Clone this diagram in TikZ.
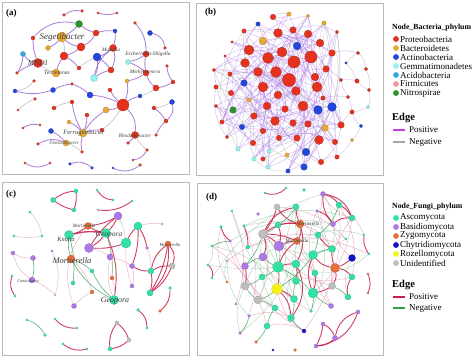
\documentclass[tikz,border=0pt]{standalone}
\usepackage{fontspec}
\setmainfont{Liberation Serif}
\pgfdeclarelayer{bg}
\pgfdeclarelayer{edges}
\pgfsetlayers{bg,edges,main}
\definecolor{cPro}{RGB}{228,50,30}
\definecolor{cBac}{RGB}{232,170,50}
\definecolor{cAct}{RGB}{35,70,220}
\definecolor{cGem}{RGB}{150,240,235}
\definecolor{cAci}{RGB}{50,170,225}
\definecolor{cFir}{RGB}{240,150,160}
\definecolor{cNit}{RGB}{40,150,40}
\definecolor{cAsc}{RGB}{50,225,165}
\definecolor{cBas}{RGB}{175,120,230}
\definecolor{cZyg}{RGB}{232,110,60}
\definecolor{cChy}{RGB}{20,20,200}
\definecolor{cRoz}{RGB}{245,240,30}
\definecolor{cUni}{RGB}{190,190,190}
\definecolor{ePosA}{RGB}{140,80,205}
\definecolor{ePosB}{RGB}{180,135,235}
\definecolor{eNeg}{RGB}{165,165,165}
\definecolor{ePosF}{RGB}{200,30,70}
\definecolor{eNegF}{RGB}{50,160,80}
\definecolor{eFaint}{RGB}{225,160,180}
\definecolor{eFaintG}{RGB}{160,205,175}
\definecolor{frameC}{RGB}{185,185,185}
\definecolor{labC}{RGB}{60,60,60}
\definecolor{legPos}{RGB}{200,60,225}
\tikzset{
  panel/.style={draw=frameC, line width=0.9pt},
  nd/.style={circle, inner sep=0pt, line width=0.25pt},
  ap/.style={draw=ePosA, line width=0.8pt, opacity=0.75},
  an/.style={draw=eNeg, line width=0.5pt, opacity=0.8},
  bp/.style={draw=ePosB, line width=0.42pt, opacity=0.6},
  bn/.style={draw=eNeg, line width=0.4pt, opacity=0.55},
  fp/.style={draw=ePosF, line width=0.9pt, opacity=0.85},
  fn/.style={draw=eNegF, line width=0.6pt, opacity=0.8},
  ff/.style={draw=eFaint, line width=0.5pt, opacity=0.75},
  fg/.style={draw=eFaintG, line width=0.5pt, opacity=0.75},
  lab/.style={font=\itshape\fontsize{#1}{#1}\selectfont, text=labC, inner sep=0pt},
  plet/.style={font=\bfseries\fontsize{9}{9}\selectfont, anchor=west, inner sep=0pt},
  legt/.style={font=\fontsize{9}{9}\selectfont, anchor=west, inner sep=0pt},
  legh/.style={font=\bfseries\fontsize{7.8}{7.8}\selectfont, anchor=west, inner sep=0pt},
  lege/.style={font=\bfseries\fontsize{10.5}{10.5}\selectfont, anchor=west, inner sep=0pt},
  legd/.style={circle, inner sep=0pt, minimum size=5.8pt}
}
\begin{document}
\begin{tikzpicture}[x=1pt,y=-1pt]
\begin{pgfonlayer}{bg}
\fill[white] (0,0) rectangle (474,358);
\end{pgfonlayer}
\path[use as bounding box] (0,0) rectangle (474,358);
% frames
\draw[panel] (2,2) rectangle (189,174);
\draw[panel] (196,3) rectangle (383,175);
\draw[panel] (2,182) rectangle (189,355);
\draw[panel] (197,183) rectangle (383,355);
\node[plet] (la) at (6,13) {(a)};
\node[plet] (lb) at (205,12) {(b)};
\node[plet] (lc) at (6,194) {(c)};
\node[plet] (ld) at (206,197) {(d)};

% ---------- panel a nodes
\foreach \n/\x/\y/\r/\c in {
a1/79/24/3.5/cNit, a2/62/37/5/cBac, a3/96/33/3/cPro, a4/115/31/2/cAct, a5/81/47/4/cPro,
a6/64/56/4/cPro, a7/48/48/2.5/cBac, a8/33/38/2/cPro, a9/113/48/3.5/cPro, a10/97/57/4/cAct,
a11/111/70/3/cPro, a12/94/78/3.5/cGem, a13/38/63/4.5/cPro, a14/23/54/2.5/cAci, a15/56/73/4/cBac,
a16/79/68/2/cPro, a17/17/73/1.5/cPro, a18/34/81/1.5/cPro, a19/15/91/2/cAct, a20/53/90/2.5/cAct,
a21/35/99/1.5/cPro, a22/72/84/1.5/cPro, a23/90/95/3/cAct, a24/110/90/2/cPro, a25/123/105/6/cPro,
a26/140/96/2/cAct, a27/106/110/3/cBac, a28/87/115/2/cPro, a29/54/108/2/cPro, a30/72/102/2/cPro,
a31/69/122/2/cBac, a32/83/133/4/cBac, a33/102/130/2/cPro, a34/135/135/3.5/cPro, a35/51/131/2.5/cAct,
a36/66/143/3/cBac, a37/38/144/1.5/cPro, a38/82/152/1.5/cPro, a39/70/164/1.5/cAct, a40/92/168/1.5/cAct,
a41/150/33/2.5/cAct, a42/146/54/3/cPro, a43/128/62/2.5/cGem, a44/146/73/3/cPro, a45/127/81/2/cBac,
a46/156/88/3/cPro, a47/135/23/1.5/cPro, a48/165/48/1.5/cPro, a49/167/66/1.5/cPro, a50/173/82/2/cPro,
a51/172/102/2.5/cAct, a52/154/108/2/cPro, a53/166/121/2/cPro, a54/156/135/1.5/cPro, a55/64/15/1.5/cPro,
a56/82/11/1.5/cPro, a57/98/13/1.2/cPro, a58/117/13/1.2/cPro, a59/18/110/1.2/cPro, a60/25/163/1.2/cPro,
a61/50/163/1.2/cPro, a62/133/160/1.2/cPro, a63/147/150/1.5/cPro, a64/113/168/1.2/cAct, a65/140/165/1.5/cPro,
a66/128/143/1.5/cPro, a67/23/128/1.2/cPro, a68/40/125/1.2/cPro}
  \node[nd, minimum size=\r*2pt, fill=\c, draw=\c!75!black] (\n) at (\x,\y) {};

\begin{pgfonlayer}{edges}
\foreach \u/\v/\k in {a55/a56/20, a57/a58/-15, a8/a1/30, a1/a2/10, a1/a3/-10, a2/a7/10, a2/a5/-15,
  a3/a4/10, a3/a5/15, a5/a6/10, a6/a15/-10, a6/a16/10, a13/a14/20, a13/a8/10, a13/a17/-10, a14/a17/15,
  a9/a10/10, a9/a12/-20, a10/a11/10, a10/a12/15, a11/a12/-10, a9/a11/20, a4/a9/10, a41/a48/35,
  a42/a43/10, a42/a44/-10, a43/a44/10, a44/a45/10, a44/a46/-15, a50/a46/10, a51/a53/30, a52/a53/10,
  a53/a54/-10, a19/a20/-15, a20/a22/10, a23/a25/10, a24/a25/-10, a25/a26/10, a25/a27/10, a25/a34/25,
  a27/a32/-10, a28/a32/10, a30/a32/-10, a31/a32/10, a32/a33/10, a32/a38/-10, a35/a36/10, a37/a36/25,
  a39/a40/30, a60/a61/-30, a62/a63/-25, a64/a65/-30, a34/a66/10, a45/a25/15, a67/a68/20, a22/a23/10,
  a47/a42/20, a49/a50/-15}
  \draw[ap] (\u) to[bend left=\k] (\v);
\foreach \u/\v/\k in {a2/a6/10, a13/a15/-10, a51/a52/10, a19/a18/-20, a25/a33/10, a29/a30/10,
  a36/a38/10, a34/a63/-10, a59/a21/10, a16/a10/10, a26/a46/-10}
  \draw[an] (\u) to[bend left=\k] (\v);
\end{pgfonlayer}
\node[lab=9] (ta1) at (a2) {Segetibacter};
\node[lab=7.5] (ta2) at (a13) {MND1};
\node[lab=5.6] (ta3) at (57,73) {Terrimonas};
\node[lab=5.2] (ta4) at (111,50) {Massilia};
\node[lab=5.4] (ta5) at (148,54) {Escherichia-Shigella};
\node[lab=5.2] (ta6) at (145,72) {Methylotenera};
\node[lab=6.4] (ta7) at (84,133) {Ferruginibacter};
\node[lab=5.2] (ta8) at (135,136) {Rhodanobacter};
\node[lab=4.8] (ta9) at (64,143) {Flavisolibacter};

% ---------- panel b nodes
\foreach \n/\x/\y/\r/\c in {
1/273/17/2.5/cPro, 2/289/14/2/cBac, 3/258/24/2/cAct, 4/244/31/2/cPro, 5/278/33/4/cPro,
6/293/30/3/cPro, 7/263/41/3.5/cBac, 8/249/50/4.5/cPro, 9/268/58/5/cPro, 10/282/52/4.5/cPro,
11/297/46/3.5/cAct, 12/294/62/5.5/cPro, 13/245/63/4/cPro, 14/258/72/4/cPro, 15/276/72/5/cPro,
16/289/80/6/cPro, 17/230/74/2/cPro, 18/214/70/1.5/cPro, 19/244/83/3/cAct, 20/263/87/4.5/cPro,
21/296/91/4/cPro, 22/278/95/3.5/cPro, 23/231/93/2.5/cPro, 24/216/87/2/cPro, 25/249/100/2/cBac,
26/267/106/3.5/cPro, 27/285/109/3/cPro, 28/303/106/4.5/cPro, 29/233/110/3/cNit, 30/216/106/1.5/cPro,
31/254/116/3/cPro, 32/275/121/4/cPro, 33/293/123/3/cPro, 34/222/122/2/cPro, 35/242/127/2.5/cAct,
36/263/131/2.5/cPro, 37/279/138/2.5/cPro, 38/297/138/3/cPro, 39/227/137/1.5/cPro, 40/253/143/2.5/cPro,
41/238/149/2/cGem, 42/269/151/2/cGem, 43/263/159/2/cPro, 44/287/155/2/cBac, 45/306/152/3.5/cAct,
46/254/159/2/cGem, 47/288/171/2/cAct, 48/268/167/2/cGem, 49/308/16/1.5/cBac, 50/324/23/2/cBac,
51/337/32/1.5/cPro, 52/308/34/3.5/cPro, 53/320/43/3.5/cPro, 54/332/53/3/cPro, 55/311/57/5.5/cPro,
56/326/69/3/cPro, 57/315/77/3.5/cPro, 58/317/87/4.5/cPro, 59/323/98/2/cPro, 60/318/110/4/cAct,
61/332/107/4/cAct, 62/308/124/3/cPro, 63/325/128/3/cBac, 64/341/125/3/cPro, 65/319/140/4/cPro,
66/335/142/2.5/cPro, 67/321/162/2.5/cPro, 68/337/157/2/cPro, 69/304/167/3/cAct, 70/232/42/1.2/cPro,
71/225/56/1.2/cPro, 72/358/53/1.5/cPro, 73/346/63/1.2/cAct, 74/366/69/1.5/cPro, 75/341/80/1.5/cPro,
76/357/81/2/cPro, 77/369/90/1.5/cPro, 78/348/97/1.5/cPro, 79/368/107/1.5/cGem, 80/352/112/2/cPro,
81/361/126/1.5/cAct, 82/352/140/1.5/cBac}
  \node[nd, minimum size=\r*2.2pt, fill=\c, draw=\c!75!black] (b\n) at (\x,\y) {};

\begin{pgfonlayer}{edges}
\pgfmathsetseed{11}
\foreach \k in {1,...,230} {
  \pgfmathtruncatemacro\i{random(1,71)}
  \pgfmathtruncatemacro\j{mod(\i+random(1,30)-1,71)+1}
  \pgfmathtruncatemacro\bb{random(0,1)*44-22}
  \pgfmathtruncatemacro\g{mod(\k,7)}
  \ifnum\g=0
    \draw[bn] (b\i) to[bend left=\bb] (b\j);
  \else
    \draw[bp] (b\i) to[bend left=\bb] (b\j);
  \fi
}
\foreach \u/\v/\k in {b72/b74/20, b74/b77/15, b75/b76/10, b77/b79/15, b78/b80/10, b80/b81/-15,
  b81/b82/10, b75/b78/-10, b64/b80/10, b54/b72/15, b59/b78/10, b56/b75/10, b68/b82/-10}
  \draw[bp] (\u) to[bend left=\k] (\v);
\foreach \u/\v/\k in {b73/b76/10, b76/b77/-10, b79/b80/10, b72/b73/-10}
  \draw[bn] (\u) to[bend left=\k] (\v);
\end{pgfonlayer}

% ---------- panel c nodes
\foreach \n/\x/\y/\r/\c in {
c1/53/200/2.5/cAsc, c2/76/191/2/cAsc, c3/74/210/2/cAsc, c4/97/190/1.2/cAsc, c5/113/200/1.2/cAsc,
c6/98/210/1.2/cUni, c7/132/201/1.2/cAsc, c8/118/216/4/cBas, c9/88/226/3.5/cZyg, c10/69/235/4.5/cAsc,
c11/106/233/4.5/cAsc, c12/126/243/5/cAsc, c13/138/226/4/cAsc, c14/89/248/4.5/cBas, c15/71/259/4/cZyg,
c16/110/257/3/cBas, c17/33/258/2.5/cBas, c18/13/253/2/cBas, c19/32/280/3/cBas, c20/92/271/2/cAsc,
c21/112/278/2/cZyg, c22/92/292/2/cZyg, c23/114/300/4.5/cAsc, c24/74/306/2.5/cBas, c25/73/283/2/cAsc,
c26/12/276/1.2/cAsc, c27/15/296/1.2/cAsc, c28/132/266/2.5/cBas, c29/132/286/2/cBas, c30/147/248/1.5/cBas,
c31/151/271/3/cAsc, c32/150/293/3/cAsc, c33/138/310/1.5/cAsc, c34/147/328/1.2/cAsc, c36/55/295/1.2/cUni,
c37/27/320/1.2/cAsc, c38/45/335/1.5/cAsc, c39/55/319/1.2/cAsc, c40/77/328/1.2/cAsc, c41/117/323/2/cUni,
c42/129/340/2/cUni, c43/110/349/2/cAsc, c44/63/344/1.2/cAsc, c45/87/349/1.2/cAsc, c46/168/244/3/cZyg,
c47/172/266/3/cUni, c49/170/288/1.5/cAsc, c50/160/311/1.5/cZyg, c51/162/224/1.2/cUni, c52/30/212/1.2/cAsc,
c53/42/236/1.2/cAsc, c54/14/236/1.2/cAsc, c55/52/251/1.2/cBas}
  \node[nd, minimum size=\r*2pt, fill=\c, draw=\c!80!black] (\n) at (\x,\y) {};

\begin{pgfonlayer}{edges}
\foreach \u/\v/\k in {c1/c2/15, c1/c3/-10, c2/c3/10, c4/c5/-25, c6/c7/-20, c8/c9/10, c8/c11/10,
  c8/c14/-10, c9/c10/10, c9/c11/-10, c11/c14/10, c14/c12/-10, c12/c13/10, c11/c23/15, c26/c27/-25,
  c13/c28/10, c28/c31/-15, c31/c46/20, c32/c46/-25, c31/c47/15, c32/c47/-15, c46/c47/30, c31/c32/10,
  c49/c50/25, c39/c40/-25, c41/c42/15, c42/c43/15, c41/c43/-20, c44/c45/-25, c33/c34/25, c13/c30/10,
  c46/c32/10}
  \draw[fp] (\u) to[bend left=\k] (\v);
\draw[fp, line width=1.4pt] (c10) to[bend left=10] (c11);
\foreach \u/\v/\k in {c10/c15/-10, c15/c23/-15, c15/c20/10, c20/c23/-10, c17/c19/10, c37/c38/20,
  c10/c25/10, c11/c21/10}
  \draw[fn] (\u) to[bend left=\k] (\v);
\foreach \u/\v/\k in {c8/c12/10, c14/c16/10, c16/c23/-15, c15/c22/15, c21/c23/10, c17/c18/15,
  c18/c19/-20, c28/c29/15, c24/c22/10, c9/c24/-30, c52/c53/15, c54/c53/-10, c55/c36/20, c16/c28/10,
  c12/c29/-10, c19/c36/10, c13/c51/10, c30/c31/10, c11/c16/15}
  \draw[ff] (\u) to[bend left=\k] (\v);
\end{pgfonlayer}
\node[lab=5] (tc1) at (84,226) {Mortierella};
\node[lab=7.5] (tc2) at (109,235) {Geopora};
\node[lab=6.3] (tc3) at (66,240) {Knufia};
\node[lab=8.5] (tc4) at (72,261) {Mortierella};
\node[lab=8] (tc5) at (115,301) {Geopora};
\node[lab=4.2] (tc6) at (28,281) {Coniochaeta};
\node[lab=4.5] (tc7) at (170,245) {Mortierella};

% ---------- panel d nodes
\foreach \n/\x/\y/\r/\c in {
1/265/193/1.2/cAsc, 2/286/188/1.2/cAsc, 3/304/190/1.5/cAsc, 4/296/207/3/cAsc, 5/277/207/3/cUni,
6/300/224/4/cZyg, 7/297/241/3.5/cZyg, 8/278/225/3/cAsc, 9/263/234/4.5/cUni, 10/279/246/5/cBas,
11/263/257/4/cBas, 12/245/266/3.5/cBas, 13/278/267/5.5/cAsc, 14/296/264/4/cAsc, 15/262/277/3/cAsc,
16/245/286/4/cUni, 17/277/289/5.5/cRoz, 18/258/300/4/cUni, 19/296/281/3.5/cAsc, 20/294/299/3.5/cAsc,
21/275/308/3/cAsc, 22/291/318/3.5/cAsc, 23/267/326/3/cAsc, 24/249/316/1.5/cBas, 25/240/333/1.5/cBas,
26/256/342/1.5/cZyg, 27/304/331/2/cChy, 28/273/350/1.2/cChy, 29/295/350/1.5/cZyg, 30/221/227/1.5/cAsc,
31/230/241/1.5/cBas, 32/212/246/1.2/cAsc, 33/244/226/1.5/cAsc, 34/248/247/2/cAsc, 35/258/214/1.5/cBas,
36/232/211/1.2/cAsc, 37/208/265/1.2/cAsc, 38/212/278/1.2/cAsc, 39/227/261/1.5/cUni, 40/227/282/1.2/cZyg,
41/236/304/1.2/cBas, 42/323/194/2.5/cBas, 43/339/205/3/cAsc, 44/317/211/1.5/cBas, 45/333/224/2.5/cBas,
46/352/218/3/cAsc, 47/318/235/3/cAsc, 48/346/239/1.2/cAsc, 49/364/235/1.2/cAsc, 50/369/254/1.2/cAsc,
51/332/249/3.5/cAsc, 52/313/255/4.5/cAsc, 53/352/258/3.5/cChy, 54/335/268/4.5/cZyg, 55/315/273/3/cAsc,
56/352/277/3/cAsc, 57/332/286/3.5/cUni, 58/313/293/5/cAsc, 59/348/297/3/cAsc, 60/331/306/2.5/cBas,
61/311/311/1.5/cAsc, 62/368/274/1.2/cZyg, 63/368/293/1.2/cZyg, 64/358/312/2/cBas, 65/323/324/2/cBas,
66/335/338/2.5/cBas, 67/316/346/2/cBas}
  \node[nd, minimum size=\r*2pt, fill=\c, draw=\c!80!black] (d\n) at (\x,\y) {};

\begin{pgfonlayer}{edges}
\pgfmathsetseed{5}
\foreach \k in {1,...,60} {
  \pgfmathtruncatemacro\i{random(4,61)}
  \pgfmathtruncatemacro\j{mod(\i-4+random(1,18),58)+4}
  \pgfmathtruncatemacro\bb{random(0,1)*40-20}
  \pgfmathtruncatemacro\g{mod(\k,2)}
  \ifnum\g=0
    \draw[ff] (d\i) to[bend left=\bb] (d\j);
  \else
    \draw[fg] (d\i) to[bend left=\bb] (d\j);
  \fi
}
\foreach \u/\v/\k in {1/2/-30, 42/43/20, 42/46/30, 43/46/15, 44/45/20, 45/46/20, 42/45/-20,
  62/63/20, 64/66/-30, 65/66/20, 66/67/20, 64/67/30, 65/67/10, 49/50/-20, 5/6/-20, 5/9/10, 9/6/20,
  9/7/10, 9/10/10, 6/7/20, 8/6/10, 4/6/-10, 10/7/10, 11/9/-20, 13/14/10, 13/7/15, 14/19/10,
  54/52/20, 54/57/20, 54/51/10, 54/56/20, 53/54/10, 52/58/-20, 13/17/10, 17/20/10, 14/22/30,
  17/22/20, 12/16/10, 37/38/30, 33/34/10, 55/58/10, 56/59/-20, 57/58/10, 51/47/10, 30/31/-15,
  8/10/15, 6/14/20, 4/9/-25}
  \draw[fp] (d\u) to[bend left=\k] (d\v);
\foreach \u/\v/\k in {10/13/10, 11/13/-10, 13/15/10, 15/16/10, 16/18/-10, 17/18/10, 18/21/10,
  21/23/-10, 20/22/10, 12/11/10, 8/9/10, 19/20/-10, 9/12/10, 4/8/10, 47/52/10, 51/52/-10, 43/47/15,
  57/59/10, 58/61/10, 60/58/10, 23/26/10, 24/25/15, 27/22/10, 32/31/10, 13/58/10, 17/52/-10}
  \draw[fn] (d\u) to[bend left=\k] (d\v);
\end{pgfonlayer}
\node[lab=5] (td1) at (308,224) {Mortierella};
\node[lab=5] (td2) at (297,241) {Mortierella};

% ---------- legends
\node[legh] (lh1) at (392,28) {Node\_Bacteria\_phylum};
\foreach \t/\c [count=\i] in {Proteobacteria/cPro, Bacteroidetes/cBac, Actinobacteria/cAct,
  Gemmatimonadetes/cGem, Acidobacteria/cAci, Firmicutes/cFir, Nitrospirae/cNit} {
  \node[legd, fill=\c] (lbd\i) at (396,30+9*\i) {};
  \node[legt] (lbt\i) at (400,30+9*\i) {\t};
}
\node[lege] (le1) at (392,118) {Edge};
\coordinate (lp1) at (393,130); \coordinate (lp2) at (405,130);
\coordinate (ln1) at (393,142); \coordinate (ln2) at (405,142);
\draw[draw=legPos, line width=1.3pt] (lp1) -- (lp2);
\draw[draw=eNeg, line width=1.3pt] (ln1) -- (ln2);
\node[legt] (lpt) at (409,130) {Positive};
\node[legt] (lnt) at (409,142) {Negative};

\node[legh] (lh2) at (392,207) {Node\_Fungi\_phylum};
\foreach \t/\c [count=\i] in {Ascomycota/cAsc, Basidiomycota/cBas, Zygomycota/cZyg,
  Chytridiomycota/cChy, Rozellomycota/cRoz, Unidentified/cUni} {
  \node[legd, fill=\c] (lfd\i) at (396,209+9*\i) {};
  \node[legt] (lft\i) at (400,209+9*\i) {\t};
}
\node[lege] (le2) at (392,285) {Edge};
\coordinate (fp1) at (393,297); \coordinate (fp2) at (405,297);
\coordinate (fn1) at (393,308); \coordinate (fn2) at (405,308);
\draw[draw=ePosF, line width=1.3pt] (fp1) -- (fp2);
\draw[draw=eNegF, line width=1.3pt] (fn1) -- (fn2);
\node[legt] (fpt) at (409,297) {Positive};
\node[legt] (fnt) at (409,308) {Negative};
\end{tikzpicture}
\end{document}
